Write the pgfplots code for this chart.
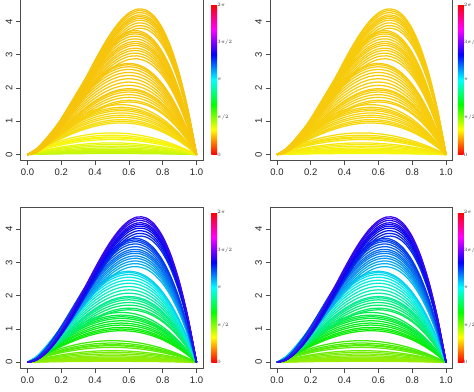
\PassOptionsToPackage{rgb}{xcolor}
\documentclass[border=0pt]{standalone}
\usepackage{pgfplots}
\pgfplotsset{compat=1.18}
\usepackage{pgfplotstable}
\usepackage{fontspec}
\setmainfont{Liberation Sans}
\usetikzlibrary{calc}

% curve shapes, each scaled to a peak of 1
\pgfplotstableread{
x     g1    g125   g15    g175   g2
0.00  0.00  0.0000 0.0000 0.0000 0.0000
0.05  0.19  0.1054 0.0571 0.0305 0.0160
0.10  0.36  0.2374 0.1531 0.0971 0.0608
0.15  0.51  0.3722 0.2656 0.1864 0.1291
0.20  0.64  0.5020 0.3849 0.2902 0.2160
0.25  0.75  0.6220 0.5043 0.4021 0.3164
0.30  0.84  0.7291 0.6187 0.5163 0.4253
0.35  0.91  0.8209 0.7240 0.6279 0.5375
0.40  0.96  0.8954 0.8165 0.7322 0.6480
0.45  0.99  0.9510 0.8931 0.8248 0.7518
0.50  1.00  0.9862 0.9509 0.9016 0.8438
0.55  0.99  0.9999 0.9874 0.9588 0.9188
0.60  0.96  0.9909 1.0000 0.9924 0.9720
0.65  0.91  0.9583 0.9866 0.9989 0.9982
0.70  0.84  0.9011 0.9451 0.9748 0.9923
0.75  0.75  0.8186 0.8735 0.9166 0.9492
0.80  0.64  0.7099 0.7698 0.8209 0.8640
0.85  0.51  0.5743 0.6323 0.6846 0.7315
0.90  0.36  0.4112 0.4593 0.5044 0.5468
0.95  0.19  0.2200 0.2490 0.2772 0.3046
1.00  0.00  0.0000 0.0000 0.0000 0.0000
}\shapes

\newcommand\mkcol[1]{\definecolor{tmph}{hsb}{#1}\colorlet{tmpc}[rgb]{tmph}}
\pgfplotsset{
  colormap={rb}{rgb=(1,0,0) rgb=(1,1,0) rgb=(0,1,0) rgb=(0,1,1) rgb=(0,0,1) rgb=(1,0,1) rgb=(1,0,0)},
  tlcol/.code={\pgfmathsetmacro\hv{0.13+0.08*exp(-1.5*#1)}\mkcol{\hv,0.95,0.97}\pgfkeysalso{color=tmpc}},
  trcol/.code={\pgfmathsetmacro\hv{0.135+0.035*exp(-1.5*#1)}\mkcol{\hv,0.95,0.97}\pgfkeysalso{color=tmpc}},
  bcol/.code={\pgfmathsetmacro\hv{0.22+0.11*#1}\mkcol{\hv,0.97,0.93}\pgfkeysalso{color=tmpc}},
  rpanel/.style={
    scale only axis, width=182.6pt, height=160.6pt,
    anchor=south west,
    xmin=-0.04, xmax=1.04, ymin=-0.18, ymax=4.65,
    axis line style={black!70, line width=0.8pt},
    xtick={0,0.2,0.4,0.6,0.8,1}, xticklabels={0.0,0.2,0.4,0.6,0.8,1.0},
    ytick={0,1,2,3,4},
    xtick pos=bottom, ytick pos=left,
    tick align=outside, major tick length=4.7pt,
    tick style={black!70, line width=0.8pt},
    ticklabel style={font=\fontsize{9.5}{10}\selectfont, text=black!85},
    /pgf/number format/assume math mode=true,
    yticklabel style={rotate=90, anchor=south},
    colormap name=rb, colorbar, point meta min=0, point meta max=1,
    colorbar style={
      at={($(parent axis.south east)+(-0.5pt,6pt)$)}, anchor=south west,
      scale only axis, width=5.7pt, height=150pt,
      ytick={0,0.25,0.5,0.75,1},
      yticklabels={$0$,$\pi/2$,$\pi$,$3\pi/2$,$2\pi$},
      yticklabel style={font=\fontsize{2.5}{3}\selectfont, inner sep=0.25pt, text=black!80},
      yticklabel pos=right,
      major tick length=0pt, axis line style={draw=none}, tick style={draw=none},
    },
  },
  rightbar/.style={colorbar style={at={($(parent axis.south east)+(-3.5pt,6pt)$)}}},
}

\newcommand\crv[2]{\addplot[curvecol={#2}, line width=1.25pt, smooth] table[x=x, y expr=\thisrow{#1}*#2]{\shapes};}
% peak heights, lowest first
\newcommand\allcurves{%
  \crv{g1}{0.03}\crv{g1}{0.05}\crv{g1}{0.07}\crv{g1}{0.09}\crv{g1}{0.11}
  \crv{g1}{0.13}\crv{g1}{0.16}\crv{g1}{0.20}\crv{g1}{0.25}\crv{g1}{0.30}
  \crv{g1}{0.35}\crv{g1}{0.45}\crv{g1}{0.50}\crv{g1}{0.53}\crv{g1}{0.58}\crv{g1}{0.65}
  \crv{g125}{0.95}\crv{g125}{1.00}\crv{g125}{1.05}\crv{g125}{1.12}\crv{g125}{1.18}
  \crv{g125}{1.25}\crv{g125}{1.32}\crv{g125}{1.37}\crv{g125}{1.42}\crv{g125}{1.50}
  \crv{g15}{1.58}\crv{g15}{1.63}\crv{g15}{1.72}\crv{g15}{1.80}\crv{g15}{1.88}
  \crv{g15}{1.94}\crv{g15}{1.98}\crv{g15}{2.08}\crv{g15}{2.18}\crv{g15}{2.28}
  \crv{g15}{2.38}\crv{g15}{2.47}\crv{g15}{2.56}\crv{g15}{2.64}\crv{g15}{2.70}\crv{g15}{2.74}
  \crv{g175}{2.88}\crv{g175}{2.97}\crv{g175}{3.05}\crv{g175}{3.13}\crv{g175}{3.20}
  \crv{g175}{3.28}\crv{g175}{3.34}\crv{g175}{3.40}\crv{g175}{3.48}\crv{g175}{3.56}
  \crv{g175}{3.63}\crv{g175}{3.68}\crv{g175}{3.73}
  \crv{g2}{3.80}\crv{g2}{3.88}\crv{g2}{3.96}\crv{g2}{4.04}\crv{g2}{4.10}
  \crv{g2}{4.15}\crv{g2}{4.20}\crv{g2}{4.27}\crv{g2}{4.33}\crv{g2}{4.38}%
}

\begin{document}
\begin{tikzpicture}
\useasboundingbox (0,0) rectangle (474pt,391pt);
\fill[white] (0,0) rectangle (474pt,391pt);

\begin{axis}[rpanel, at={(20.7pt,230.5pt)}, curvecol/.style={tlcol={#1}}]
\allcurves
\end{axis}

\begin{axis}[rpanel, rightbar, at={(270.2pt,230.5pt)}, curvecol/.style={trcol={#1}}]
\allcurves
\end{axis}

\begin{axis}[rpanel, at={(20.7pt,22.7pt)}, curvecol/.style={bcol={#1}}]
\allcurves
\end{axis}

\begin{axis}[rpanel, rightbar, at={(270.2pt,22.7pt)}, curvecol/.style={bcol={#1}}]
\allcurves
\end{axis}
\end{tikzpicture}
\end{document}
